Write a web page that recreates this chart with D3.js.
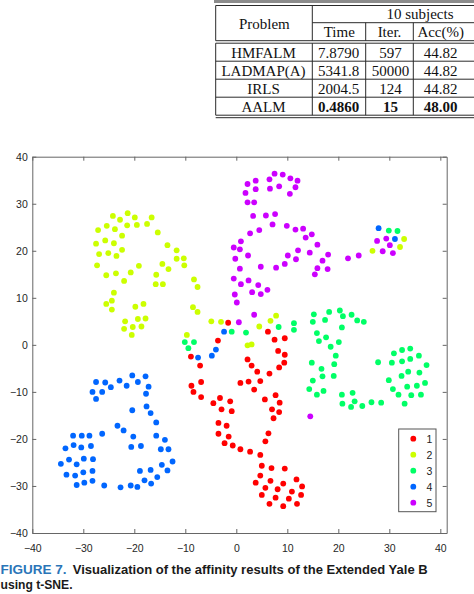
<!DOCTYPE html>
<html><head><meta charset="utf-8">
<script src="https://cdn.jsdelivr.net/npm/d3@7"></script>
<style>body{margin:0;background:#fff}svg{display:block}</style>
</head><body><svg id="c" width="474" height="594"></svg>
<script>
// ---------- data ----------
const methods = ["HMFALM", "LADMAP(A)", "IRLS", "AALM"];
const times = ["7.8790", "5341.8", "2004.5", "0.4860"];
const iters = ["597", "50000", "124", "15"];
const accs = ["44.82", "44.82", "44.82", "48.00"];
const headerTop = ["Problem", "10 subjects"];
const headerSub = ["Time", "Iter.", "Acc(%)"];

const xTicks = [-40, -30, -20, -10, 0, 10, 20, 30, 40];
const yTicks = [-40, -30, -20, -10, 0, 10, 20, 30, 40];
const legendLabels = ["1", "2", "3", "4", "5"];

const class1 = [[-1.6,4.7],[-3.6,0.9],[-8.9,-2.5],[-7.1,-4.4],[2.2,-3.1],[3.0,-4.4],[6.2,2.8],[7.5,1.1],[9.5,1.4],[8.2,-1.3],[9.5,-2.1],[9.4,-3.8],[8.4,-4.8],[6.5,-6.1],[4.1,-5.7],[4.7,-7.7],[2.4,-7.8],[0.8,-8.1],[3.5,-9.5],[-8.8,-8.7],[-8.4,-10.0],[-6.9,-7.9],[-6.9,-11.1],[-4.5,-12.4],[-3.2,-11.3],[-1.2,-12.0],[-2.9,-13.7],[-0.9,-14.1],[-3.5,-16.6],[-1.9,-17.2],[-3.5,-18.9],[-1.5,-19.5],[-2.3,-20.9],[-0.7,-21.4],[0.8,-22.2],[2.7,-22.7],[4.7,-23.4],[5.0,-25.7],[6.9,-26.2],[9.5,-26.3],[4.7,-27.8],[3.8,-29.3],[6.7,-28.9],[9.2,-29.5],[11.8,-28.6],[5.7,-30.4],[8.1,-30.7],[10.9,-31.2],[12.9,-30.1],[5.0,-31.9],[7.7,-32.5],[10.3,-32.7],[12.7,-31.9],[6.5,-33.8],[9.2,-34.3],[11.9,-33.8],[6.3,-18.8],[5.7,-20.5],[7.3,-15.6],[7.0,-13.7],[8.4,-14.3],[7.7,-10.7],[8.5,-12.3],[5.6,-11.6]];
const class2 = [[-27.1,24.4],[-25.4,25.3],[-24.2,27.4],[-22.8,26.6],[-21.3,28.0],[-19.9,27.1],[-21.4,25.4],[-19.5,25.5],[-16.6,27.1],[-17.5,25.7],[-23.8,24.6],[-22.4,23.2],[-15.4,23.9],[-27.5,21.5],[-25.7,22.2],[-24.0,21.6],[-26.9,19.3],[-25.1,19.5],[-23.5,18.9],[-22.4,20.2],[-27.3,16.9],[-25.5,14.8],[-23.6,15.2],[-22.0,13.6],[-20.7,15.4],[-19.1,16.8],[-13.5,21.2],[-11.7,20.1],[-11.7,18.3],[-10.3,18.4],[-10.2,16.9],[-14.5,17.2],[-13.3,16.1],[-15.7,14.9],[-15.8,12.9],[-14.4,12.9],[-8.3,13.9],[-7.6,12.3],[-24.0,11.1],[-24.4,9.4],[-25.5,8.7],[-24.4,7.5],[-19.8,8.1],[-18.2,8.7],[-8.5,8.0],[-7.6,7.0],[-21.8,5.0],[-22.0,3.4],[-20.3,3.8],[-19.3,5.5],[-18.6,3.9],[-17.8,5.6],[-20.5,2.1],[-4.9,5.0],[-3.0,4.9],[-9.7,2.1],[2.2,-0.1],[3.0,0.1],[4.5,3.9],[6.7,5.1],[7.8,6.2],[26.7,20.0],[32.9,22.5],[32.1,20.8]];
const class3 = [[11.3,4.6],[11.3,3.2],[15.2,6.5],[15.0,4.9],[17.4,5.3],[18.2,7.0],[20.3,7.3],[20.9,6.1],[22.6,6.4],[23.7,5.2],[25.0,4.9],[20.7,3.7],[15.8,2.5],[17.6,1.6],[16.2,0.8],[20.1,0.6],[18.5,-0.4],[19.5,-2.3],[14.8,-3.8],[19.2,-4.1],[16.7,-5.1],[16.9,-6.7],[19.1,-6.6],[15.0,-7.6],[14.3,-9.4],[17.1,-9.8],[15.8,-10.6],[20.7,-10.6],[22.8,-10.2],[20.8,-12.5],[23.2,-12.0],[22.5,-13.2],[24.7,-13.0],[26.5,-12.2],[28.4,-12.3],[27.8,-3.7],[30.9,-1.8],[32.5,-1.1],[34.1,-0.8],[35.8,-2.3],[30.5,-3.8],[32.5,-3.5],[34.1,-3.0],[37.3,-4.3],[33.7,-5.7],[32.4,-6.6],[35.9,-5.9],[29.9,-7.5],[30.7,-9.4],[33.5,-8.9],[35.4,-8.7],[37.0,-8.1],[31.8,-10.6],[34.3,-10.7],[36.2,-10.6],[33.0,-12.5],[-0.9,2.8],[1.9,2.6],[-10.1,0.6],[-8.3,0.6],[-9.4,-0.7],[8.3,3.8],[29.9,24.3],[31.6,24.2]];
const class4 = [[-27.5,-7.9],[-25.7,-8.0],[-24.6,-9.0],[-22.9,-7.6],[-21.5,-8.7],[-20.4,-6.5],[-19.3,-7.9],[-17.8,-6.7],[-17.2,-8.9],[-28.2,-10.0],[-26.3,-10.0],[-27.5,-11.5],[-17.7,-10.4],[-20.4,-13.9],[-17.6,-13.1],[-16.8,-14.5],[-15.7,-16.5],[-23.3,-17.2],[-22.1,-18.2],[-26.3,-18.9],[-15.7,-19.3],[-20.2,-19.5],[-14.0,-20.2],[-32.0,-19.3],[-30.3,-19.3],[-28.8,-19.3],[-33.5,-22.0],[-31.9,-21.3],[-30.4,-21.8],[-28.5,-21.5],[-20.6,-21.7],[-18.7,-21.5],[-14.8,-22.2],[-13.3,-22.2],[-34.4,-25.3],[-32.8,-24.4],[-31.3,-25.4],[-29.9,-24.2],[-28.1,-24.3],[-14.6,-25.5],[-12.5,-24.8],[-33.3,-27.6],[-31.6,-27.8],[-30.0,-27.1],[-28.2,-26.8],[-18.9,-26.8],[-16.8,-26.6],[-13.5,-26.7],[-15.5,-28.1],[-18.0,-28.8],[-16.7,-29.5],[-31.3,-29.8],[-29.8,-29.3],[-28.2,-28.9],[-25.9,-29.9],[-22.7,-30.3],[-20.7,-29.9],[-19.4,-30.2],[-2.4,2.8],[-4.0,-1.0],[-4.8,-2.3],[-7.5,-2.7],[27.9,24.8],[31.1,22.5]];
const class5 = [[7.5,36.4],[9.1,36.2],[10.6,35.4],[12.0,34.9],[6.5,35.2],[3.8,34.9],[2.2,34.2],[3.8,33.1],[6.6,33.2],[8.4,33.7],[11.6,33.5],[10.5,32.1],[1.8,32.3],[2.2,30.3],[3.5,30.3],[3.3,27.4],[5.8,27.5],[7.6,27.8],[7.1,25.6],[4.5,24.4],[2.7,23.7],[9.9,25.3],[11.6,24.5],[13.1,24.7],[13.6,22.8],[14.8,23.5],[15.9,21.3],[0.9,22.0],[-0.5,20.7],[0.7,20.3],[-0.2,18.3],[2.3,19.0],[12.1,20.1],[10.1,19.0],[14.4,19.6],[11.7,18.2],[9.5,17.2],[7.8,16.4],[4.8,16.6],[0.7,16.2],[16.9,17.9],[18.0,19.2],[15.9,16.3],[15.4,15.0],[17.9,16.1],[-0.5,14.1],[0.9,12.9],[2.4,13.7],[4.3,12.7],[6.1,11.7],[3.1,11.2],[4.8,10.8],[-0.3,10.7],[0.1,9.0],[3.5,6.4],[0.5,4.8],[21.9,18.4],[24.0,19.0],[27.6,22.1],[29.4,22.6],[30.1,21.2],[28.7,19.9],[30.7,19.5],[14.5,-15.2]];

const seriesList = [class1, class2, class3, class4, class5];
const palette = ["#ff0000", "#ccff00", "#00ff66", "#0066ff", "#cc00ff"];

// ---------- drawing ----------
const svg = d3.select("#c");

// ---- table ----
const serif = "'Liberation Serif','Times New Roman',serif";
const tbl = svg.append("g");
const lineCol = "#2a2a2a";
const colX = { left: 215.7, c1: 312.3, c2: 365.7, c3: 413.3, right: 480 };
tbl.append("rect").attr("x", 214).attr("y", 0).attr("width", 270).attr("height", 3).attr("fill", "#8c8c8c");
function hline(y, x1, x2) { tbl.append("line").attr("x1", x1).attr("x2", x2).attr("y1", y).attr("y2", y).attr("stroke", lineCol).attr("stroke-width", 1); }
function vline(x, y1, y2) { tbl.append("line").attr("x1", x).attr("x2", x).attr("y1", y1).attr("y2", y2).attr("stroke", lineCol).attr("stroke-width", 1); }
hline(5.5, colX.left, colX.right);
hline(22.7, colX.c1, colX.right);
hline(40.7, colX.left, colX.right);
hline(43.2, colX.left, colX.right);
const rowTop = 43.2, rowH = 18;
methods.forEach((m, i) => { if (i > 0) hline(rowTop + i * rowH, colX.left, colX.right); });
hline(115.2, colX.left, colX.right);
hline(117.7, colX.left, colX.right);
vline(colX.left, 5.5, 40.7); vline(colX.c1, 5.5, 40.7);
vline(colX.c2, 22.7, 40.7); vline(colX.c3, 22.7, 40.7);
[colX.left, colX.c1, colX.c2, colX.c3].forEach(x => vline(x, 43.2, 115.2));

const tt = (x, y, s, bold) => tbl.append("text").attr("x", x).attr("y", y).attr("text-anchor", "middle")
  .attr("dominant-baseline", "central").attr("font-family", serif).attr("font-size", 15)
  .attr("font-weight", bold ? "bold" : "normal").attr("fill", "#111").text(s);
tt(264.3, 23.5, headerTop[0]);
tt(420, 14.2, headerTop[1]);
const subX = [339.3, 389.5, 440.7];
headerSub.forEach((s, i) => tt(subX[i], 32, s));
methods.forEach((m, i) => {
  const cy = rowTop + i * rowH + rowH / 2 + 0.3;
  const bold = i === methods.length - 1;
  tt(263.5, cy, m);
  tt(338.5, cy, times[i], bold);
  tt(390.5, cy, iters[i], bold);
  tt(440.7, cy, accs[i], bold);
});

// ---- scatter ----
const x = d3.scaleLinear().domain([-40, 41.25]).range([32.3, 446.7]);
const y = d3.scaleLinear().domain([-40, 40]).range([533, 156.7]);
const sans = "'Liberation Sans',Arial,sans-serif";
const axCol = "#666";

function styleAxis(g) {
  g.selectAll("path").attr("stroke", axCol).attr("stroke-width", 1);
  g.selectAll("line").attr("stroke", axCol).attr("stroke-width", 1);
  g.selectAll("text").attr("font-family", sans).attr("font-size", 10.5).attr("fill", "#262626");
}
svg.append("g").attr("transform", "translate(0,533)")
  .call(d3.axisBottom(x).tickValues(xTicks).tickSizeInner(-4).tickSizeOuter(0).tickPadding(11.5)).call(styleAxis);
svg.append("g").attr("transform", "translate(0,156.7)")
  .call(d3.axisTop(x).tickValues(xTicks).tickSizeInner(-4).tickSizeOuter(0).tickFormat("")).call(styleAxis);
svg.append("g").attr("transform", "translate(32.3,0)")
  .call(d3.axisLeft(y).tickValues(yTicks).tickSizeInner(-4).tickSizeOuter(0).tickPadding(4.5)).call(styleAxis);
svg.append("g").attr("transform", "translate(446.7,0)")
  .call(d3.axisRight(y).tickValues(yTicks).tickSizeInner(-4).tickSizeOuter(0).tickFormat("")).call(styleAxis);

const pts = svg.append("g");
seriesList.forEach((s, k) => {
  pts.append("g").selectAll("circle").data(s).join("circle")
    .attr("cx", d => x(d[0])).attr("cy", d => y(d[1])).attr("r", 2.9)
    .attr("fill", palette[k]);
});

// legend
const lg = svg.append("g");
lg.append("rect").attr("x", 398.7).attr("y", 429).attr("width", 37.3).attr("height", 82.7)
  .attr("fill", "#fff").attr("stroke", "#555").attr("stroke-width", 1);
legendLabels.forEach((l, i) => {
  const cy = 438.7 + i * 16;
  lg.append("circle").attr("cx", 413.3).attr("cy", cy).attr("r", 2.9).attr("fill", palette[i]);
  lg.append("text").attr("x", 426.5).attr("y", cy).attr("dominant-baseline", "central")
    .attr("font-family", sans).attr("font-size", 10.5).attr("fill", "#222").text(l);
});

// caption
const capFont = "'Liberation Sans',Arial,sans-serif";
svg.append("text").attr("x", 0.5).attr("y", 573.5).attr("font-family", capFont).attr("font-weight", "bold")
  .attr("font-size", 12.5).attr("fill", "#2a75b8").attr("textLength", 66).attr("lengthAdjust", "spacingAndGlyphs").text("FIGURE 7.");
svg.append("text").attr("x", 72.7).attr("y", 573.5).attr("font-family", capFont).attr("font-weight", "bold")
  .attr("font-size", 12.5).attr("fill", "#1a1a1a").attr("textLength", 355).attr("lengthAdjust", "spacingAndGlyphs")
  .text("Visualization of the affinity results of the Extended Yale B");
svg.append("text").attr("x", 0.5).attr("y", 588.5).attr("font-family", capFont).attr("font-weight", "bold")
  .attr("font-size", 12.5).attr("fill", "#1a1a1a").attr("textLength", 72).attr("lengthAdjust", "spacingAndGlyphs")
  .text("using t-SNE.");
</script></body></html>
